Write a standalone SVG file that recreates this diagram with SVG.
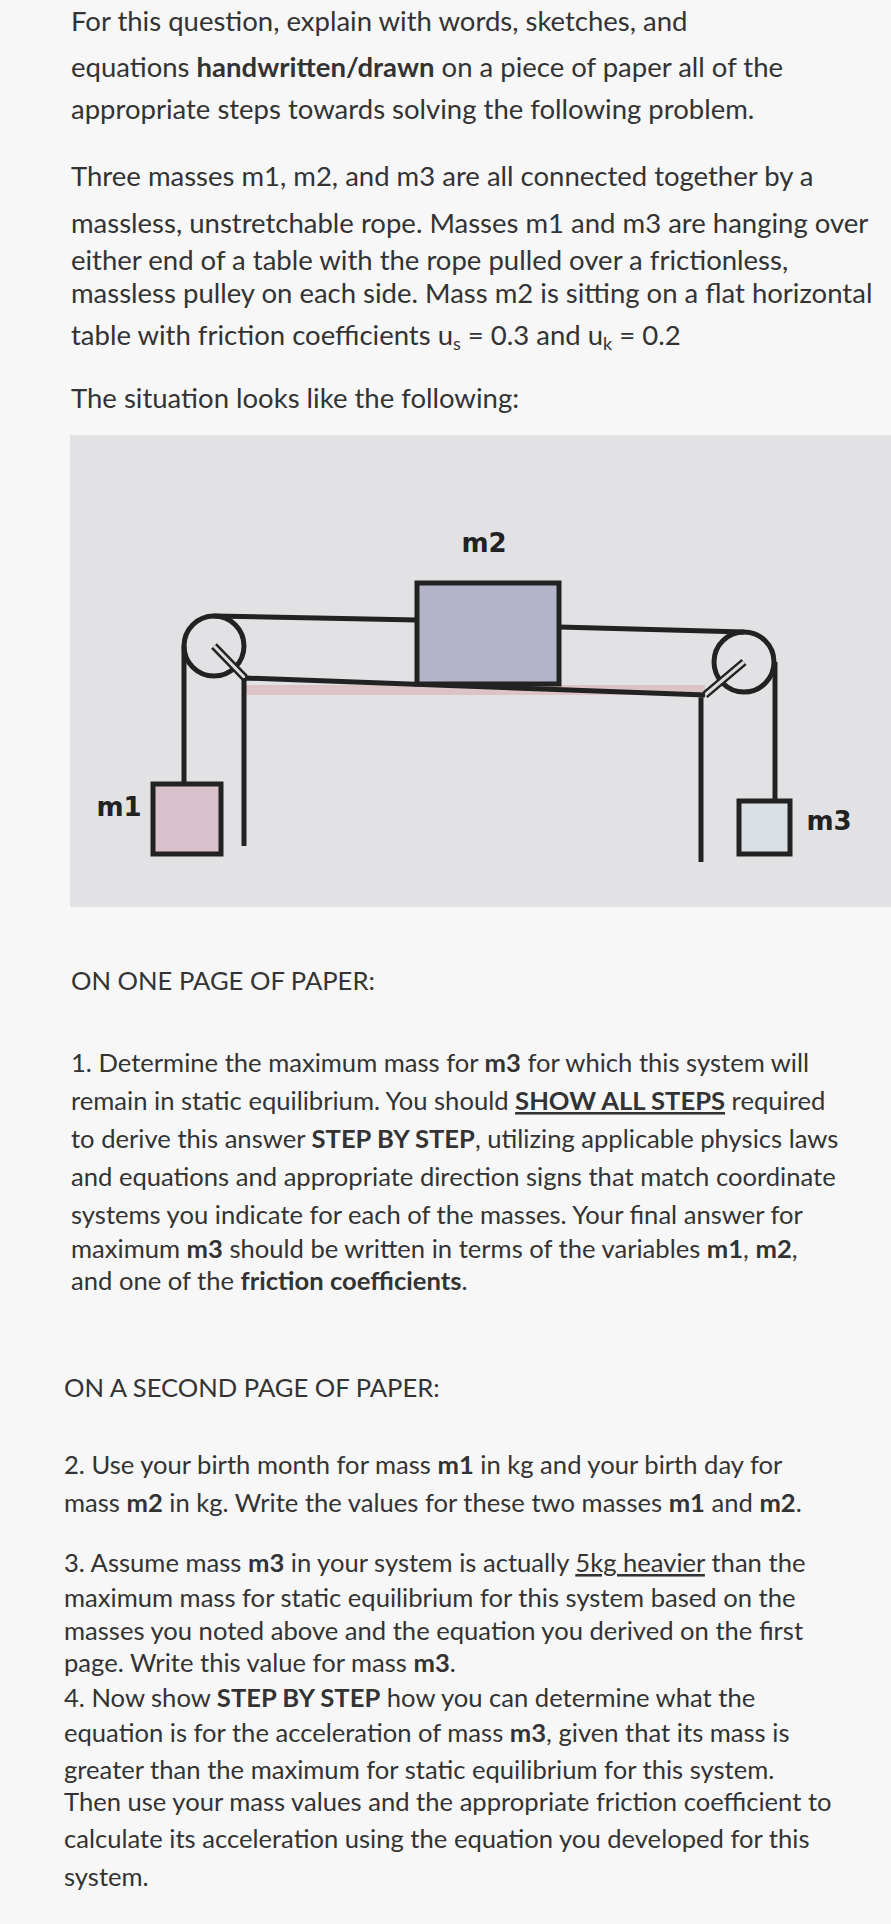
<svg xmlns="http://www.w3.org/2000/svg" width="891" height="1924" viewBox="0 0 891 1924">
<style>
text{font-family:Lato,"Liberation Sans",sans-serif;font-size:27.5px;fill:#333}
#text2 text{font-size:25.6px}
.b{font-weight:bold}
.r{fill:none;stroke:#222;stroke-width:5}
.lbl{font-family:"DejaVu Sans",sans-serif;font-size:26px;font-weight:bold;fill:#222}
</style>
<rect width="891" height="1924" fill="#f7f7f8"/>
<g id="text1">
<text x="71" y="31">For this question, explain with words, sketches, and</text>
<text x="71" y="77">equations <tspan class="b">handwritten/drawn</tspan> on a piece of paper all of the</text>
<text x="71" y="119">appropriate steps towards solving the following problem.</text>
<text x="71" y="186">Three masses m1, m2, and m3 are all connected together by a</text>
<text x="71" y="233">massless, unstretchable rope.  Masses m1 and m3 are hanging over</text>
<text x="71" y="270">either end of a table with the rope pulled over a frictionless,</text>
<text x="71" y="303">massless pulley on each side.  Mass m2 is sitting on a flat horizontal</text>
<text x="71" y="345">table with friction coefficients u<tspan font-size="18" dy="5">s</tspan><tspan dy="-5"> =  0.3 and u</tspan><tspan font-size="18" dy="5">k</tspan><tspan dy="-5"> = 0.2</tspan></text>
<text x="71" y="408">The situation looks like the following:</text>
</g>
<g id="diagram">
<rect x="70" y="435" width="821" height="472" fill="#e2e2e4"/>
<rect x="245" y="685" width="460" height="10" fill="#dcc4c6"/>
<g id="pulley-left"><circle cx="214" cy="646" r="30" class="r" fill="#e2e2e4"/><line x1="214" y1="646" x2="245" y2="678" stroke="#222" stroke-width="8"/><line x1="214" y1="646" x2="245" y2="678" stroke="#ddd" stroke-width="3"/></g>
<g id="pulley-right"><circle cx="744" cy="662" r="30" class="r" fill="#e2e2e4"/><line x1="744" y1="662" x2="705" y2="695" stroke="#222" stroke-width="8"/><line x1="744" y1="662" x2="705" y2="695" stroke="#ddd" stroke-width="3"/></g>
<g id="connectors">
<path class="r" d="M214 616 L417 620 M559 627 L744 632 M184 646 L184 784 M775 662 L775 803"/>
<path class="r" d="M245 678 L705 695 M244 678 L244 846 M701 695 L701 862"/>
</g>
<g id="m2"><rect x="417" y="583" width="142" height="101" fill="#b3b3c9" stroke="#222" stroke-width="5"/><text class="lbl" x="484" y="552" text-anchor="middle">m2</text></g>
<g id="m1"><rect x="153" y="784" width="68" height="70" fill="#d9c0cb" stroke="#222" stroke-width="5"/><text class="lbl" x="119" y="816" text-anchor="middle">m1</text></g>
<g id="m3"><rect x="739" y="801" width="51" height="53" fill="#d8e0e6" stroke="#222" stroke-width="5"/><text class="lbl" x="829" y="830" text-anchor="middle">m3</text></g>
</g>
<g id="text2">
<text x="71" y="990">ON ONE PAGE OF PAPER:</text>
<text x="71" y="1072">1. Determine the maximum mass for <tspan class="b">m3</tspan> for which this system will</text>
<text x="71" y="1110">remain in static equilibrium.  You should <tspan class="b" text-decoration="underline">SHOW ALL STEPS</tspan> required</text>
<text x="71" y="1148">to derive this answer <tspan class="b">STEP BY STEP</tspan>, utilizing applicable physics laws</text>
<text x="71" y="1186">and equations and appropriate direction signs that match coordinate</text>
<text x="71" y="1224">systems you indicate for each of the masses.  Your final answer for</text>
<text x="71" y="1258">maximum <tspan class="b">m3</tspan> should be written in terms of the variables <tspan class="b">m1</tspan>, <tspan class="b">m2</tspan>,</text>
<text x="71" y="1290">and one of the <tspan class="b">friction coefficients</tspan>.</text>
<text x="64" y="1397">ON A SECOND PAGE OF PAPER:</text>
<text x="64" y="1474">2. Use your birth month for mass <tspan class="b">m1</tspan> in kg and your birth day for</text>
<text x="64" y="1512">mass <tspan class="b">m2</tspan> in kg.  Write the values for these two masses <tspan class="b">m1</tspan> and <tspan class="b">m2</tspan>.</text>
<text x="64" y="1572">3. Assume mass <tspan class="b">m3</tspan> in your system is actually <tspan text-decoration="underline">5kg heavier</tspan> than the</text>
<text x="64" y="1607">maximum mass for static equilibrium for this system based on the</text>
<text x="64" y="1640">masses you noted above and the equation you derived on the first</text>
<text x="64" y="1672">page.  Write this value for mass <tspan class="b">m3</tspan>.</text>
<text x="64" y="1707">4. Now show <tspan class="b">STEP BY STEP</tspan> how you can determine what the</text>
<text x="64" y="1742">equation is for the acceleration of mass <tspan class="b">m3</tspan>, given that its mass is</text>
<text x="64" y="1779">greater than the maximum for static equilibrium for this system.</text>
<text x="64" y="1811">Then use your mass values and the appropriate friction coefficient to</text>
<text x="64" y="1848">calculate its acceleration using the equation you developed for this</text>
<text x="64" y="1886">system.</text>
</g>
</svg>
